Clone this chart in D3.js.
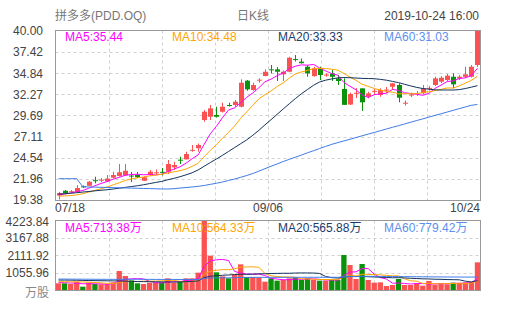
<!DOCTYPE html>
<html><head><meta charset="utf-8">
<script src="https://cdn.jsdelivr.net/npm/d3@7"></script>
<style>
body{margin:0;background:#fff}
svg text{font-family:Arial,"Liberation Sans","Noto Sans CJK SC",sans-serif}
</style>
</head><body>
<svg id="c" width="505" height="310"></svg>
<script>
// ---------- data ----------
const dates=["07/18","07/19","07/22","07/23","07/24","07/25","07/26","07/29","07/30","07/31",
"08/01","08/02","08/05","08/06","08/07","08/08","08/09","08/12","08/13","08/14","08/15","08/16","08/19","08/20","08/21","08/22","08/23","08/26","08/27","08/28","08/29","08/30",
"09/03","09/04","09/05","09/06","09/09","09/10","09/11","09/12","09/13","09/16","09/17","09/18","09/19","09/20","09/23","09/24","09/25","09/26","09/27","09/30",
"10/01","10/02","10/03","10/04","10/07","10/08","10/09","10/10","10/11","10/14","10/15","10/16","10/17","10/18","10/21","10/22","10/23","10/24"];
const openP=[19.93,20.51,20.40,20.36,21.05,21.12,21.80,21.78,21.66,22.10,22.31,22.39,22.36,22.43,21.73,22.43,22.68,22.82,22.83,23.36,24.30,24.34,25.38,25.69,29.14,29.54,29.75,30.15,30.97,30.97,30.76,33.94,32.80,33.94,34.51,35.32,35.32,34.71,35.03,36.58,36.26,35.64,34.51,35.44,34.57,34.83,34.22,32.93,31.03,32.34,33.00,31.98,32.60,32.19,32.75,33.20,33.41,31.15,32.13,32.30,32.40,32.98,33.41,33.82,34.02,34.42,34.22,34.42,34.42,35.85];
const closeP=[20.23,20.20,20.45,20.84,20.98,21.61,21.72,21.86,22.00,22.43,22.76,22.95,22.30,22.15,22.15,22.83,22.76,22.74,23.77,23.65,24.20,24.99,25.50,26.09,30.15,30.56,29.54,30.76,30.85,31.37,33.69,32.88,33.41,34.06,35.03,35.20,35.03,35.03,36.74,36.50,36.07,34.83,35.44,34.63,34.68,34.42,33.90,30.99,32.32,32.46,31.30,32.39,32.70,32.80,32.85,33.61,31.86,31.25,32.25,32.40,33.00,33.06,34.22,34.30,34.55,33.49,34.42,34.71,35.64,40.00];
const highP=[20.36,20.60,20.60,21.21,21.15,21.70,22.22,22.06,22.43,22.82,23.77,23.77,22.80,22.80,22.25,23.04,23.10,23.28,24.26,24.05,24.66,25.27,26.09,26.27,30.36,30.97,30.76,31.25,31.25,31.58,34.10,34.02,33.69,34.23,35.32,35.85,35.60,35.17,36.86,37.07,36.64,35.85,35.64,35.64,34.83,35.24,34.63,34.22,32.48,33.04,33.00,32.59,32.92,33.00,33.16,33.65,33.61,31.52,32.49,32.67,33.41,33.30,34.42,34.50,34.75,34.83,34.63,35.64,35.85,40.00];
const lowP=[19.44,20.11,20.30,20.30,20.84,21.08,21.42,21.57,21.61,22.00,22.25,22.31,21.57,22.06,21.70,22.31,22.43,22.37,22.55,23.04,23.77,24.32,25.27,25.27,28.93,29.14,29.44,30.05,30.78,30.76,30.69,32.71,32.71,33.69,34.47,34.83,33.90,33.90,34.96,36.28,36.03,34.42,34.42,34.02,34.42,33.90,33.41,30.97,30.97,31.82,30.24,31.78,32.19,31.98,32.43,32.80,31.30,30.90,31.94,32.07,32.31,32.74,33.29,33.65,33.90,33.00,34.02,34.26,34.32,35.60];
const ma5=[20.00,20.10,20.25,20.40,20.54,20.82,21.12,21.40,21.63,21.92,22.15,22.40,22.49,22.52,22.46,22.48,22.44,22.53,22.85,23.15,23.42,23.87,24.42,24.89,26.19,27.46,28.37,29.42,30.37,30.62,31.24,31.91,32.44,33.08,33.81,34.12,34.55,34.87,35.41,35.70,35.87,35.83,35.92,35.49,35.13,34.80,34.61,33.72,33.26,32.82,32.19,31.89,32.23,32.33,32.41,32.87,32.76,32.47,32.36,32.27,32.15,32.39,32.99,33.40,33.83,33.92,34.20,34.29,34.56,35.44];
const ma10=[19.85,19.88,19.92,20.00,20.15,20.35,20.55,20.75,20.98,21.23,21.49,21.76,21.95,22.08,22.19,22.32,22.42,22.51,22.69,22.81,22.95,23.16,23.48,23.87,24.67,25.44,26.12,26.92,27.63,28.41,29.35,30.14,30.93,31.73,32.22,32.68,33.23,33.66,34.25,34.76,35.00,35.19,35.40,35.45,35.42,35.34,35.22,34.82,34.38,33.98,33.50,33.25,32.98,32.80,32.62,32.53,32.33,32.35,32.35,32.34,32.51,32.58,32.73,32.88,33.05,33.04,33.30,33.64,33.98,34.48];
const ma20=[20.10,20.15,20.20,20.27,20.35,20.42,20.50,20.57,20.63,20.72,20.82,20.92,21.02,21.12,21.24,21.38,21.52,21.65,21.85,22.02,22.22,22.45,22.70,23.05,23.50,23.95,24.38,24.83,25.30,25.78,26.25,26.72,27.28,27.88,28.55,29.18,29.83,30.48,31.12,31.75,32.34,32.86,33.38,33.78,34.00,34.15,34.28,34.32,34.30,34.26,34.22,34.20,34.18,34.10,34.00,33.85,33.70,33.50,33.30,33.12,32.98,32.90,32.82,32.80,32.80,32.80,32.85,32.98,33.15,33.33];
const ma60=[21.98,21.98,21.98,21.98,20.99,20.97,20.95,20.93,20.91,20.89,20.87,20.85,20.83,20.81,20.79,20.77,20.75,20.73,20.72,20.76,20.84,20.90,20.97,21.05,21.15,21.29,21.42,21.58,21.76,21.94,22.15,22.37,22.61,22.90,23.20,23.50,23.78,24.07,24.34,24.60,24.86,25.14,25.39,25.66,25.92,26.17,26.38,26.59,26.79,27.00,27.21,27.42,27.62,27.83,28.04,28.25,28.45,28.66,28.87,29.08,29.28,29.49,29.70,29.90,30.11,30.32,30.53,30.73,30.94,31.03];
const volume=[402,402,362,503,201,442,362,342,342,462,1146,845,583,402,362,442,442,462,704,442,503,704,704,1046,4223.84,2071,1066,825,704,945,1548,784,784,744,503,704,563,603,704,744,603,704,603,563,563,603,603,2112,1508,664,1569,603,442,462,241,302,664,302,302,402,261,543,302,402,342,442,442,462,503,1669];
const vma5=[450,440,420,410,374,382,374,370,338,390,531,627,676,688,668,527,446,422,482,498,511,563,611,680,1436,1750,1822,1846,1778,1122,1018,961,953,961,873,704,660,623,615,664,643,672,672,643,607,607,587,889,1078,1098,1291,1291,957,748,663,410,422,394,362,394,386,362,362,382,370,406,386,418,438,713.38];
const vma10=[500,500,495,490,485,470,450,430,400,382,457,501,523,513,529,529,537,549,585,583,519,505,517,581,967,1131,1193,1229,1229,1279,1384,1392,1400,1370,998,861,811,788,788,769,674,666,648,629,636,625,630,781,861,853,949,939,923,913,881,851,857,676,555,529,398,392,378,372,382,396,374,390,410,564.33];
const vma20=[600,600,595,590,580,570,565,560,555,550,545,530,520,510,505,500,495,490,485,483,488,503,520,547,748,830,865,889,907,931,951,948,958,975,982,995,1002,1009,1009,1024,1029,1029,1024,999,816,743,720,784,824,810,811,802,785,771,758,738,743,728,708,691,674,666,651,643,631,623,615,533,483,565.88];
const vma60=[660,658,656,654,652,650,648,646,644,642,645,648,648,646,644,642,640,638,640,638,636,636,636,640,700,724,732,735,736,742,757,760,762,764,762,764,764,764,765,767,767,768,768,768,767,767,767,792,808,810,826,826,822,818,812,808,810,806,802,800,795,794,790,788,784,784,782,780,778,779.42];
const priceTicks=[19.38,21.96,24.54,27.11,29.69,32.27,34.84,37.42,40.00];
const volTicks=[0,1055.96,2111.92,3167.88,4223.84];
const xTickDates=["07/18","09/06","10/24"];
const maNames=["MA5","MA10","MA20","MA60"];
const maLast=["35.44","34.48","33.33","31.03"];
const volMaLast=["713.38","564.33","565.88","779.42"];
const titleText="拼多多(PDD.OQ)", periodText="日K线", stampText="2019-10-24 16:00", volUnit="万股", wan="万";

// ---------- layout ----------
const L=55.5, R=480.5, T=30.5, B=200.5, VT=220.5, VB=290.5;
const maColors=["#ff00ff","#ffa500","#12335f","#3f7be8"];
const maTextColors=["#ff00ff","#ffa500","#1b3c6b","#5b8ff0"];
const up="#fa5252", down="#0a920a";
const svg=d3.select("#c");

const x=d3.scaleBand().domain(dates).range([L,R]).padding(0);
const xc=d=>x(d)+x.bandwidth()/2;
const y=d3.scaleLinear().domain([priceTicks[0],priceTicks[priceTicks.length-1]]).range([B-0.5,T+0.5]);
const vy=d3.scaleLinear().domain([0,volTicks[volTicks.length-1]]).range([VB-0.5,VT-0.5]);

// header
svg.append("text").attr("x",55).attr("y",20).attr("font-size",12).attr("fill","#777").text(titleText);
svg.append("text").attr("x",253).attr("y",20).attr("text-anchor","middle").attr("font-size",12).attr("fill","#777").text(periodText);
svg.append("text").attr("x",479).attr("y",20).attr("text-anchor","end").attr("font-size",12).attr("fill","#444").text(stampText);

// grids
function grid(top,bottom,ticks,scale){
  const g=svg.append("g").attr("stroke","#d0d0d0").attr("stroke-dasharray","3,3").attr("stroke-width",1);
  for(let k=1;k<8;k++){const gx=Math.round(L+k*(R-L)/8)+0.5;
    g.append("line").attr("x1",gx).attr("x2",gx).attr("y1",top).attr("y2",bottom);}
  ticks.slice(1,-1).forEach(t=>{const gy=Math.round(scale(t))+0.5;
    g.append("line").attr("x1",L).attr("x2",R).attr("y1",gy).attr("y2",gy);});
}
grid(T,B,priceTicks,y);
grid(VT,VB,volTicks,vy);

// clip
svg.append("clipPath").attr("id","cp").append("rect").attr("x",L).attr("y",T).attr("width",R-L).attr("height",B-T);
svg.append("clipPath").attr("id","cv").append("rect").attr("x",L).attr("y",VT).attr("width",R-L).attr("height",VB-VT);

// candles
const idx=d3.range(dates.length);
const cg=svg.append("g").attr("clip-path","url(#cp)");
idx.forEach(i=>{
  const col=closeP[i]>=openP[i]?up:down;
  const cx=Math.round(xc(dates[i]))+0.5;
  cg.append("line").attr("x1",cx).attr("x2",cx).attr("y1",y(highP[i])).attr("y2",y(lowP[i])).attr("stroke",col).attr("stroke-width",1);
  const yt=y(Math.max(openP[i],closeP[i])), yb=y(Math.min(openP[i],closeP[i]));
  cg.append("rect").attr("x",cx-2.5).attr("width",5).attr("y",yt).attr("height",Math.max(1,yb-yt)).attr("fill",col);
});

// MA lines
const pl=d3.line().x((d,i)=>xc(dates[i])).y(d=>y(d));
[ma5,ma10,ma20,ma60].forEach((s,k)=>{
  cg.append("path").attr("d",pl(s)).attr("fill","none").attr("stroke",maColors[k]).attr("stroke-width",1);
});

// volume bars
const vg=svg.append("g").attr("clip-path","url(#cv)");
idx.forEach(i=>{
  const col=closeP[i]>=openP[i]?up:down;
  const cx=xc(dates[i]);
  vg.append("rect").attr("x",cx-2.65).attr("width",5.3).attr("y",vy(volume[i])).attr("height",vy(0)-vy(volume[i])).attr("fill",col);
});
const vl=d3.line().x((d,i)=>xc(dates[i])).y(d=>vy(d));
[vma5,vma10,vma20,vma60].forEach((s,k)=>{
  vg.append("path").attr("d",vl(s)).attr("fill","none").attr("stroke",maColors[k]).attr("stroke-width",1);
});

// frames
[[T,B],[VT,VB]].forEach(([a,b])=>svg.append("rect").attr("x",L).attr("y",a).attr("width",R-L).attr("height",b-a).attr("fill","none").attr("stroke","#999"));

// legends
const legX=[65,172,278,384];
maNames.forEach((n,k)=>{
  svg.append("text").attr("x",legX[k]).attr("y",41).attr("font-size",12).attr("fill",maTextColors[k]).text(n+":"+maLast[k]);
  svg.append("text").attr("x",legX[k]).attr("y",232).attr("font-size",12).attr("fill",maTextColors[k]).text(n+":"+volMaLast[k]+wan);
});

// y labels
priceTicks.forEach(t=>{
  svg.append("text").attr("x",43).attr("y",y(t)).attr("dy","0.36em").attr("text-anchor","end").attr("font-size",12).attr("fill","#444").text(t.toFixed(2));
});
volTicks.forEach((t,k)=>{
  if(k===0){
    svg.append("text").attr("x",49).attr("y",vy(t)+3).attr("dy","0.36em").attr("text-anchor","end").attr("font-size",12).attr("fill","#888").text(volUnit);
  } else {
    svg.append("text").attr("x",49).attr("y",vy(t)+(k===volTicks.length-1?1.5:0.5)).attr("dy","0.36em").attr("text-anchor","end").attr("font-size",12).attr("fill","#444").text(t.toFixed(2));
  }
});

// x labels
xTickDates.forEach((d,k)=>{
  const anchor=k===0?"start":(k===xTickDates.length-1?"end":"middle");
  const px=k===0?L-0.5:(k===xTickDates.length-1?R-0.5:x(d));
  svg.append("text").attr("x",px).attr("y",212).attr("text-anchor",anchor).attr("font-size",12).attr("fill","#444").text(d);
});
</script>
</body></html>
